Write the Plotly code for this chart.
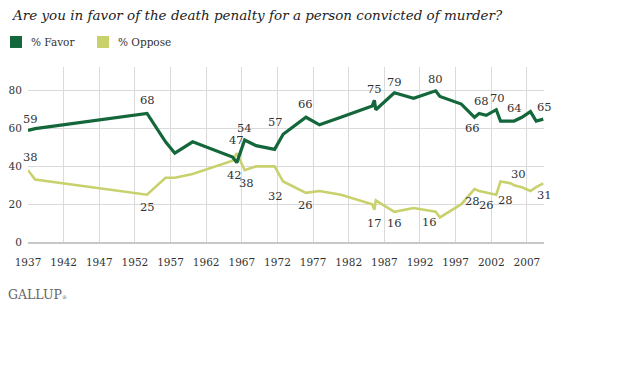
import plotly.graph_objects as go

# ---- data ----
years = [1937.0, 1938.0, 1953.7, 1956.3, 1957.6, 1960.1, 1965.7, 1966.3, 1967.4, 1969.0,
         1971.6, 1972.8, 1976.0, 1977.9, 1980.9, 1985.3, 1985.6, 1985.8, 1988.4, 1991.1,
         1994.2, 1994.8, 1997.8, 1999.65, 2000.3, 2001.3, 2002.7, 2003.3, 2004.8, 2005.2,
         2006.3, 2007.5, 2008.3, 2009.3]
favor = [59, 60, 68, 53, 47, 53, 45, 42, 54, 51,
         49, 57, 66, 62, 66, 72, 75, 70, 79, 76,
         80, 77, 73, 66, 68, 67, 70, 64, 64, 64,
         66, 69, 64, 65]
oppose = [38, 33, 25, 34, 34, 36, 43, 47, 38, 40,
          40, 32, 26, 27, 25, 20, 17, 22, 16, 18,
          16, 13, 20, 28, 27, 26, 25, 32, 31, 30,
          29, 27, 29, 31]

x_ticks = [1937, 1942, 1947, 1952, 1957, 1962, 1967, 1972, 1977, 1982, 1987, 1992, 1997, 2002, 2007]
y_ticks = [0, 20, 40, 60, 80]

# labelled points: index into the series, label text
favor_label_idx = [0, 2, 7, 8, 11, 12, 16, 18, 20, 23, 24, 26, 29, 33]
favor_label_txt = ["59", "68", "42", "54", "57", "66", "75", "79", "80", "66", "68", "70", "64", "65"]
oppose_label_idx = [0, 2, 7, 8, 11, 12, 16, 18, 20, 23, 25, 27, 30, 33]
oppose_label_txt = ["38", "25", "47", "38", "32", "26", "17", "16", "16", "28", "26", "28", "30", "31"]

title_text = "Are you in favor of the death penalty for a person convicted of murder?"
series_names = ["% Favor", "% Oppose"]

# ---- style ----
FAVOR_C = "#13673a"
OPPOSE_C = "#c9d16c"
SERIF = "DejaVu Serif"
OFF = 8  # browser body margin
W, H = 640 - OFF, 375 - OFF
PL, PR, PT, PB = 28, 544, 67, 241.7   # plot area in page pixels
L, R, T, B = PL - OFF, W - (PR - OFF), PT - OFF, H - (PB - OFF)

def px2x(px):
    return (px - PL) / (PR - PL)

def py2y(py):
    return (PB - py) / (PB - PT)

fig = go.Figure()
fig.add_trace(go.Scatter(x=years, y=oppose, mode="lines", name=series_names[1],
                         line=dict(color=OPPOSE_C, width=2.6), hoverinfo="x+y"))
fig.add_trace(go.Scatter(x=years, y=favor, mode="lines", name=series_names[0],
                         line=dict(color=FAVOR_C, width=3.2), hoverinfo="x+y"))

ann = []
# label offsets (dx, dy in px; dy positive = up)
fav_off = {0: (2, 12), 2: (0, 13), 7: (-2, -12), 8: (0, 12), 11: (-8, 12), 12: (0, 13),
           16: (0, 11), 18: (0, 11), 20: (0, 12), 23: (-2, -11), 24: (2, 12), 26: (1, 12),
           29: (0, 13), 33: (1, 12)}
opp_off = {0: (2, 13), 2: (0, -12), 7: (0, 13), 8: (2, -13), 11: (-8, -14), 12: (0, -12),
           16: (0, -13), 18: (0, -11), 20: (-6, -10), 23: (-2, -12), 25: (0, -12),
           27: (5, -18), 30: (-3, 13), 33: (1, -12)}
for i, t in zip(favor_label_idx, favor_label_txt):
    dx, dy = fav_off[i]
    ann.append(dict(x=years[i], y=favor[i], text=t, showarrow=False, xshift=dx, yshift=dy,
                    font=dict(family=SERIF, size=11.5, color="#333333")))
for i, t in zip(oppose_label_idx, oppose_label_txt):
    dx, dy = opp_off[i]
    ann.append(dict(x=years[i], y=oppose[i], text=t, showarrow=False, xshift=dx, yshift=dy,
                    font=dict(family=SERIF, size=11.5, color="#333333")))

# title
ann.append(dict(xref="paper", yref="paper", x=px2x(9), y=py2y(15), xanchor="left", yanchor="middle",
                text="<i>" + title_text + "</i>", showarrow=False,
                font=dict(family=SERIF, size=13.5, color="#222222")))
# legend
shapes = []
leg = [(10, FAVOR_C, 29, series_names[0]), (97, OPPOSE_C, 116, series_names[1])]
for sx, col, tx, name in leg:
    shapes.append(dict(type="rect", xref="paper", yref="paper",
                       x0=px2x(sx), x1=px2x(sx + 12), y0=py2y(48), y1=py2y(36),
                       fillcolor=col, line=dict(width=0)))
    ann.append(dict(xref="paper", yref="paper", x=px2x(tx), y=py2y(42), xanchor="left",
                    yanchor="middle", text=name, showarrow=False,
                    font=dict(family=SERIF, size=10.5, color="#333333")))
# footer
ann.append(dict(xref="paper", yref="paper", x=px2x(6), y=py2y(294), xanchor="left", yanchor="middle",
                text="GALLUP<span style='font-size:5px'>®</span>", showarrow=False,
                font=dict(family=SERIF, size=12.5, color="#666666")))

fig.update_layout(
    width=W, height=H, margin=dict(l=L, r=R, t=T, b=B, pad=0, autoexpand=False),
    plot_bgcolor="white", paper_bgcolor="white", showlegend=False,
    annotations=ann, shapes=shapes,
    xaxis=dict(range=[1937, 2009.4], tickvals=x_ticks, ticktext=[str(v) for v in x_ticks],
               showgrid=True, gridcolor="#dadada", gridwidth=1, zeroline=False,
               showline=True, linecolor="#c8c8c8", linewidth=2, automargin=False,
               ticks="outside", ticklen=9, tickcolor="rgba(0,0,0,0)",
               tickfont=dict(family=SERIF, size=10.5, color="#333333")),
    yaxis=dict(range=[0, 92.6], tickvals=y_ticks, showgrid=True, gridcolor="#dadada", gridwidth=1,
               zeroline=False, showline=False, ticks="outside", ticklen=3, automargin=False,
               tickcolor="rgba(0,0,0,0)",
               tickfont=dict(family=SERIF, size=10.5, color="#333333")),
)

fig.write_html("out.html")
